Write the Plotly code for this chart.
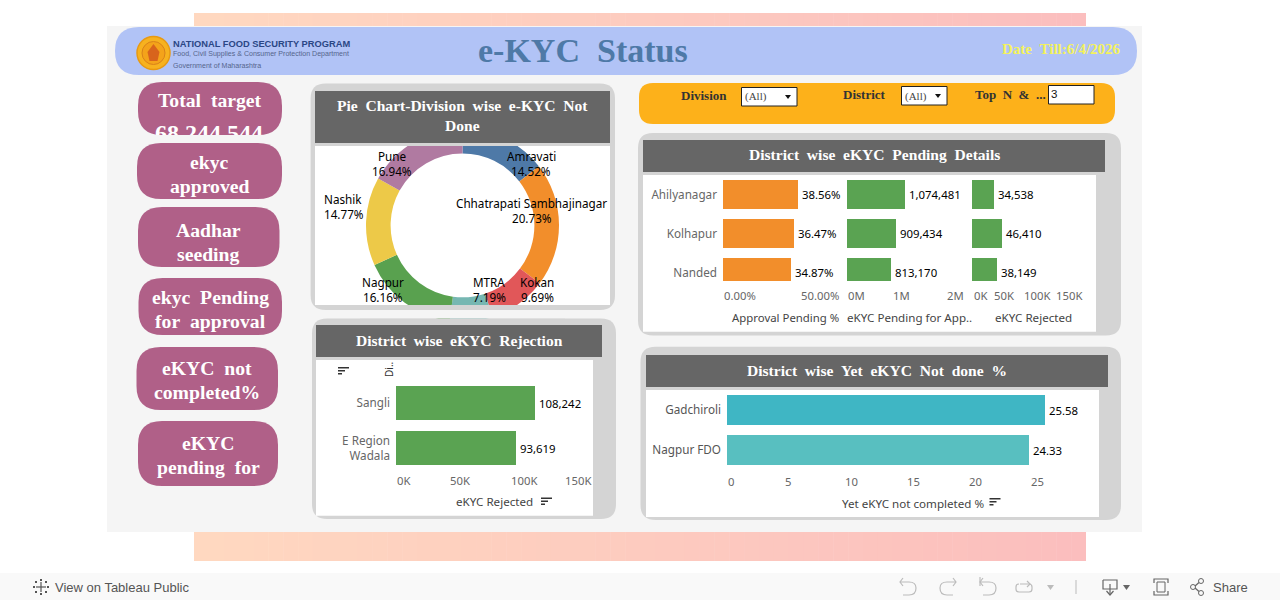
import plotly.graph_objects as go

# ---- data ----
divisions = ["Amravati", "Chhatrapati Sambhajinagar", "Kokan", "MTRA", "Nagpur", "Nashik", "Pune"]
division_pct = [14.52, 20.73, 9.69, 7.19, 16.16, 14.77, 16.94]
division_colors = ["#4e79a7", "#f28e2b", "#e15759", "#76b7b2", "#59a14f", "#edc948", "#b07aa1"]

pending_districts = ["Ahilyanagar", "Kolhapur", "Nanded"]
approval_pending_pct = [38.56, 36.47, 34.87]
ekyc_pending = [1074481, 909434, 813170]
ekyc_rejected = [34538, 46410, 38149]

rejection_districts = ["Sangli", "E Region<br>Wadala"]
rejection_values = [108242, 93619]

notdone_districts = ["Gadchiroli", "Nagpur FDO"]
notdone_pct = [25.58, 24.33]
notdone_colors = ["#3fb6c4", "#58bfc0"]

kpi_titles = [["Total\u00a0\u00a0target"], ["ekyc", "approved"], ["Aadhar", "seeding"],
              ["ekyc\u00a0\u00a0Pending", "for\u00a0\u00a0approval"], ["eKYC\u00a0\u00a0not", "completed%"],
              ["eKYC", "pending\u00a0\u00a0for"]]
total_target = "68,244,544"

SERIF = "Liberation Serif"
SANS = "Noto Sans"
W, H = 1280, 600
GREEN = "#5aa352"
ORANGE = "#f28e2b"


def px(x):
    return x / W


def py(y):
    return 1 - y / H


shapes = []
annotations = []


def rect(x0, y0, x1, y1, color, layer="below", line=None, lw=0):
    shapes.append(dict(type="rect", xref="paper", yref="paper", x0=px(x0), x1=px(x1), y0=py(y0), y1=py(y1),
                       fillcolor=color, layer=layer,
                       line=dict(width=lw, color=line or color)))


def pt(x, y):
    return f"{px(x):.6f},{py(y):.6f}"


def rrect(x0, y0, x1, y1, r, color, layer="below"):
    p = pt
    d = (f"M{p(x0 + r, y0)} L{p(x1 - r, y0)} Q{p(x1, y0)} {p(x1, y0 + r)} L{p(x1, y1 - r)} "
         f"Q{p(x1, y1)} {p(x1 - r, y1)} L{p(x0 + r, y1)} Q{p(x0, y1)} {p(x0, y1 - r)} "
         f"L{p(x0, y0 + r)} Q{p(x0, y0)} {p(x0 + r, y0)} Z")
    shapes.append(dict(type="path", xref="paper", yref="paper", path=d, fillcolor=color,
                       line=dict(width=0), layer=layer))


def poly(points, color=None, line=None, lw=1.2, close=True):
    d = "M" + " L".join(pt(x, y) for x, y in points) + (" Z" if close else "")
    shapes.append(dict(type="path", xref="paper", yref="paper", path=d,
                       fillcolor=color if color else "rgba(0,0,0,0)",
                       line=dict(width=lw if line else 0, color=line or "rgba(0,0,0,0)"), layer="below"))


def stroke(d, line, lw=1.2):
    shapes.append(dict(type="path", xref="paper", yref="paper", path=d, fillcolor="rgba(0,0,0,0)",
                       line=dict(width=lw, color=line), layer="below"))


def circle(cx, cy, r, color, line=None, lw=1):
    shapes.append(dict(type="circle", xref="paper", yref="paper", x0=px(cx - r), x1=px(cx + r),
                       y0=py(cy + r), y1=py(cy - r), fillcolor=color,
                       line=dict(width=lw if line else 0, color=line or "rgba(0,0,0,0)"), layer="below"))


def label(x, y, text, size=11, color="#000", family=SANS, anchor="center", bold=False, angle=0, xref=None,
          xshift=0):
    # annotations carry a little padding, which left-aligned text has to give back
    if anchor == "left":
        xshift -= 2
    # large serif text sits a touch low in its box
    if family == SERIF and size >= 15:
        y -= 1
    annotations.append(dict(x=x if xref else px(x), y=py(y), xref=xref or "paper", yref="paper", text=text,
                            showarrow=False, xanchor=anchor, yanchor="middle", align=anchor,
                            textangle=angle, xshift=xshift,
                            font=dict(family=family, size=size, color=color,
                                      weight="bold" if bold else "normal")))


def sort_icon(x, y):
    for i, w in enumerate([11, 7, 4]):
        rect(x, y - 4 + i * 3, x + w, y - 2.5 + i * 3, "#333333")


# page and outer panels
rect(0, 0, W, H, "#ffffff")
steps = 60
c0, c1 = (255, 216, 192), (251, 190, 190)
for i in range(steps):
    t = i / (steps - 1)
    col = "rgb(%d,%d,%d)" % tuple(round(a + (b - a) * t) for a, b in zip(c0, c1))
    xa = 194 + (1086 - 194) * i / steps
    xb = min(1086, 194 + (1086 - 194) * (i + 1) / steps + 0.5)
    rect(xa, 13, xb, 27, col)
    rect(xa, 531, xb, 561, col)
rect(107, 26, 1142, 532, "#f5f5f5")
rect(0, 573, W, 600, "#f9f9f9")

# banner with the seal and department text
rrect(115, 27, 1137, 75, 24, "#b1c3f6")
circle(153.5, 53, 16.5, "#f7b21f", line="#e89a12", lw=1.5)
circle(153.5, 53, 11.5, "#f4a31a", line="#d9821a", lw=1)
poly([(153.5, 44), (159.5, 52), (157.5, 61), (149.5, 61), (147.5, 52)], color="#d8641c")
label(173, 43.5, "NATIONAL FOOD SECURITY PROGRAM", size=9.3, color="#2b4785", family="Liberation Sans",
      anchor="left", bold=True)
label(173, 54.5, "Food, Civil Supplies &amp; Consumer Protection Department", size=7.05, color="#55658c",
      family="Liberation Sans", anchor="left")
label(173, 65, "Government of Maharashtra", size=7.05, color="#55658c", family="Liberation Sans", anchor="left")
label(583, 52, "e-KYC\u00a0\u00a0Status", size=34, color="#4e79a7", family=SERIF, bold=True)
label(1061, 50, "Date\u00a0\u00a0Till:6/4/2026", size=15, color="#f4f25c", family=SERIF, bold=True)

# KPI pills
pills = [(138, 82, 282, 135), (137, 143, 282, 199), (138, 207, 279.5, 267),
         (138.5, 278, 282, 335), (136.5, 347, 278, 410), (138, 421, 278, 486)]
text_y = [[101], [163, 187], [231, 255], [298, 322], [369, 393], [444, 468]]
for (x0, y0, x1, y1), lines, ys in zip(pills, kpi_titles, text_y):
    rrect(x0, y0, x1, y1, 24, "#b06088")
    for line_text, ty in zip(lines, ys):
        label((x0 + x1) / 2, ty, line_text, size=19.7, color="#ffffff", family=SERIF, bold=True)

# gray card backgrounds
rrect(310.6, 83.5, 615, 310, 15, "#d4d4d4")
rrect(312, 318.5, 616, 519, 15, "#d4d4d4")
rrect(638, 133, 1121, 335.5, 15, "#d4d4d4")
rrect(640.5, 346.7, 1121, 520, 15, "#d4d4d4")

# white chart areas
rect(315, 146, 610, 305, "#ffffff")
rect(316, 360, 593, 515.7, "#ffffff")
rect(643, 175, 1096, 331.7, "#ffffff")
rect(646, 390, 1099, 517, "#ffffff")

# the ring is cut off by its card, so these sit over the pie trace
rect(360, 100, 565, 146, "#d4d4d4", layer="above")
rect(315, 91, 610, 143, "#666666", layer="above")
rect(360, 305, 565, 310, "#d4d4d4", layer="above")
rect(360, 310, 565, 318.5, "#f5f5f5", layer="above")
rect(360, 318.5, 565, 324, "#d4d4d4", layer="above")

# card headers
rect(316, 325, 602, 357, "#666666", layer="above")
rect(643, 140, 1105, 172, "#666666")
rect(646, 355, 1108, 387, "#666666")
H_SIZE = 15.55
label(462.5, 107, "Pie\u00a0\u00a0Chart-Division\u00a0\u00a0wise\u00a0\u00a0e-KYC\u00a0\u00a0Not", H_SIZE, "#fff", SERIF, bold=True)
label(462.5, 127, "Done", H_SIZE, "#fff", SERIF, bold=True)
label(459, 341, "District\u00a0\u00a0wise\u00a0\u00a0eKYC\u00a0\u00a0Rejection", H_SIZE, "#fff", SERIF, bold=True)
label(874, 155.5, "District\u00a0\u00a0wise\u00a0\u00a0eKYC\u00a0\u00a0Pending\u00a0\u00a0Details", H_SIZE, "#fff", SERIF, bold=True)
label(876.5, 371, "District\u00a0\u00a0wise\u00a0\u00a0Yet\u00a0\u00a0eKYC\u00a0\u00a0Not\u00a0\u00a0done\u00a0\u00a0%", H_SIZE, "#fff", SERIF, bold=True)

# filter strip
rrect(639, 83, 1115, 124, 14, "#fdb11a")
label(704, 95.7, "Division", 13, "#333", SERIF, bold=True)
rect(741.5, 87.5, 797, 106, "#ffffff", line="#222222", lw=1)
label(745, 97, "(All)", 11, "#444", SERIF, anchor="left")
poly([(785, 95), (791, 95), (788, 99)], color="#111111")
label(864, 94.7, "District", 13, "#333", SERIF, bold=True)
rect(901.5, 86.5, 947, 105, "#ffffff", line="#222222", lw=1)
label(905, 96.5, "(All)", 11, "#444", SERIF, anchor="left")
poly([(935, 94), (941, 94), (938, 98)], color="#111111")
label(1010, 94, "Top\u00a0\u00a0N\u00a0\u00a0&amp;\u00a0\u00a0...", 13, "#333", SERIF, bold=True)
rect(1048.5, 85.5, 1094, 104, "#ffffff", line="#222222", lw=1)
label(1051, 94.5, "3", 11.5, "#111", "Liberation Sans", anchor="left")

# pie labels
pie_label_pos = {"Amravati": (531, 155.5, 170.5, "center"), "Chhatrapati Sambhajinagar": (531.5, 202.5, 217.5, "center"),
                 "Kokan": (537, 281.5, 296.5, "center"), "MTRA": (489, 281.5, 296.5, "center"),
                 "Nagpur": (383, 281.5, 296.5, "center"), "Nashik": (324, 198.5, 213.5, "left"),
                 "Pune": (392, 155.5, 170.5, "center")}
for name, val in zip(divisions, division_pct):
    x, y0, y1, anc = pie_label_pos[name]
    label(x, y0, name, 11.7, "#000", anchor=anc)
    label(x, y1, f"{val:.2f}%", 11.7, "#000", anchor=anc)


def axis_ticks(xref, labels, values, y, shifts=None):
    for i, (t, v) in enumerate(zip(labels, values)):
        shift = shifts.get(i, 0) if shifts else 0
        label(v, y, t, 11.3, "#666666", xref=xref, xshift=shift)


# numeric tick labels, with the first/last nudged to stay inside their panes
axis_ticks("x", ["0.00%", "50.00%"], [0, 50], 295.7, {0: 17})
axis_ticks("x2", ["0M", "1M", "2M"], [0, 1e6, 2e6], 295.7, {0: 9})
axis_ticks("x3", ["0K", "50K", "100K", "150K"], [0, 5e4, 1e5, 1.5e5], 295.7, {0: 8})
axis_ticks("x4", ["0K", "50K", "100K", "150K"], [0, 5e4, 1e5, 1.5e5], 480, {0: 7, 3: -10.5})
axis_ticks("x5", ["0", "5", "10", "15", "20", "25"], [0, 5, 10, 15, 20, 25], 481, {0: 4, 1: -1})

label(785, 317.7, "Approval Pending %", 11.4, "#444")
label(909, 317.7, "eKYC Pending for App..", 11.6, "#444")
label(1033, 317.7, "eKYC Rejected", 11.6, "#444")
label(494, 501.7, "eKYC Rejected", 11.6, "#444")
sort_icon(541, 501.5)
label(912.7, 503, "Yet eKYC not completed %", 11.6, "#444")
sort_icon(989.5, 502)
sort_icon(338, 371)
label(389, 370, "Di..", 10, "#333", angle=-90)

# footer toolbar
for dx, dy in [(0, -7), (0, 7), (-7, 0), (7, 0), (-5, -5), (5, -5), (-5, 5), (5, 5)]:
    rect(41 + dx - 1, 587 + dy - 1, 41 + dx + 1, 587 + dy + 1, "#555555")
rect(36, 586.4, 46, 587.6, "#555555")
rect(40.4, 582, 41.6, 592, "#555555")
label(55, 587, "View on Tableau Public", 13, "#555555", "Liberation Sans", anchor="left")
ICON = "#bcbcbc"
DARK = "#666666"


def undo_path(sx, x0):
    # hooked arrow, drawn pointing left (sx=1) or right (sx=-1) from x0
    f = lambda dx, y: pt(x0 + sx * dx, y)
    return (f"M{f(3, 578)} L{f(0, 582)} L{f(3, 586)} M{f(0, 582)} L{f(9, 582)} "
            f"Q{f(16, 582)} {f(16, 588)} Q{f(16, 595)} {f(9, 595)} L{f(3, 595)}")


stroke(undo_path(1, 900), ICON)
stroke(undo_path(-1, 956), ICON)
stroke(undo_path(1, 980), ICON)
stroke(f"M{pt(980, 577)} L{pt(980, 586)}", ICON)
stroke(f"M{pt(1020, 584)} L{pt(1029, 584)} Q{pt(1032, 584)} {pt(1032, 587)} L{pt(1032, 589)} "
       f"Q{pt(1032, 592)} {pt(1029, 592)} L{pt(1019, 592)} Q{pt(1016, 592)} {pt(1016, 589)} "
       f"L{pt(1016, 587)} Q{pt(1016, 584)} {pt(1019, 584)}", ICON)
stroke(f"M{pt(1027, 581)} L{pt(1030, 584)} L{pt(1027, 587)}", ICON)
poly([(1047, 585), (1054, 585), (1050.5, 590)], color=ICON)
rect(1075.5, 580, 1076.5, 594, ICON)
poly([(1103, 580), (1117, 580), (1117, 589), (1103, 589), (1103, 580)], line=DARK, close=False)
poly([(1110, 584), (1110, 595)], line=DARK, close=False)
poly([(1106.5, 591), (1110, 595), (1113.5, 591)], line=DARK, close=False)
poly([(1123, 585), (1130, 585), (1126.5, 590)], color=DARK)
poly([(1154, 583), (1154, 579), (1168, 579), (1168, 583)], line=DARK, close=False)
poly([(1154, 591), (1154, 595), (1168, 595), (1168, 591)], line=DARK, close=False)
rect(1157, 582, 1165, 592, "rgba(0,0,0,0)", line=DARK, lw=1)
circle(1193, 587, 2.5, "#f9f9f9", line=DARK, lw=1)
circle(1201, 581, 2.5, "#f9f9f9", line=DARK, lw=1)
circle(1201, 593, 2.5, "#f9f9f9", line=DARK, lw=1)
poly([(1195, 586), (1199, 582.5)], line=DARK, close=False)
poly([(1195, 588), (1199, 591.5)], line=DARK, close=False)
label(1213, 587, "Share", 13, "#555555", "Liberation Sans", anchor="left")


# ---- traces ----
def hbar(cats, vals, ax, color, width, fmt):
    sfx = "" if ax == 1 else str(ax)
    # value labels hang off the bar ends through the same axes
    for c, v in zip(cats, vals):
        annotations.append(dict(x=v, y=c, xref="x" + sfx, yref="y" + sfx, text=fmt(v), showarrow=False,
                                xanchor="left", yanchor="middle", xshift=2, yshift=-0.5,
                                font=dict(family=SANS, size=11.4, color="#000")))
    return [go.Bar(y=cats, x=vals, orientation="h", marker=dict(color=color, line=dict(width=0)),
                   width=width, xaxis="x" + sfx, yaxis="y" + sfx, hoverinfo="skip")]


traces = [go.Pie(labels=divisions, values=division_pct, sort=False, direction="clockwise", rotation=0,
                 hole=0.745, marker=dict(colors=division_colors, line=dict(width=0)), textinfo="none",
                 hoverinfo="skip", showlegend=False,
                 domain=dict(x=[px(366), px(559)], y=[py(321.9), py(128.9)]))]
traces += hbar(pending_districts, approval_pending_pct, 1, ORANGE, 0.744, lambda v: f"{v:.2f}%")
traces += hbar(pending_districts, ekyc_pending, 2, GREEN, 0.744, lambda v: f"{v:,}")
traces += hbar(pending_districts, ekyc_rejected, 3, GREEN, 0.744, lambda v: f"{v:,}")
traces += hbar(rejection_districts, rejection_values, 4, GREEN, 0.756, lambda v: f"{v:,}")
traces += hbar(notdone_districts, notdone_pct, 5, notdone_colors, 0.75, lambda v: f"{v:.2f}")

# the big total runs past the bottom of its pill, so it lives in a clipped pane
traces.append(go.Scatter(x=[209], y=[135], mode="text", text=[total_target], textposition="middle center",
                         textfont=dict(family=SERIF, size=24, color="#ffffff", weight="bold"),
                         cliponaxis=True, xaxis="x6", yaxis="y6", hoverinfo="skip"))


def xax(x0, x1, vmax_px, px_per_unit):
    return dict(domain=[px(x0), px(x1)], range=[0, vmax_px / px_per_unit], showgrid=False, zeroline=False,
                showline=False, showticklabels=False, ticks="", fixedrange=True)


def yax(top, bottom, first_center, spacing, cats, xanchor, tick_color="#666666"):
    return dict(domain=[py(bottom), py(top)], type="category", categoryorder="array", categoryarray=cats,
                range=[(bottom - first_center) / spacing, (top - first_center) / spacing],
                showgrid=False, zeroline=False, showline=False, ticks="", anchor=xanchor, fixedrange=True,
                ticklabelstandoff=5, tickfont=dict(family=SANS, size=11.7, color=tick_color))


fig = go.Figure(traces)
y_noticks = dict(showticklabels=False)
fig.update_layout(
    width=W, height=H, autosize=False, margin=dict(l=0, r=0, t=0, b=0), showlegend=False,
    paper_bgcolor="#ffffff", plot_bgcolor="rgba(0,0,0,0)", bargap=0, barmode="overlay",
    shapes=shapes, annotations=annotations,
    xaxis=dict(xax(723, 843, 120, 1.945), anchor="y"),
    xaxis2=dict(xax(847, 968, 121, 54e-6), anchor="y2"),
    xaxis3=dict(xax(972, 1092, 120, 0.645e-3), anchor="y3"),
    xaxis4=dict(xax(396, 592, 196, 1.284e-3), anchor="y4"),
    xaxis5=dict(xax(727, 1095, 368, 12.43), anchor="y5"),
    xaxis6=dict(domain=[px(138), px(282)], range=[138, 282], visible=False, anchor="y6", fixedrange=True),
    yaxis=yax(175, 281, 194.4, 39, pending_districts, "x"),
    yaxis2=dict(yax(175, 281, 194.4, 39, pending_districts, "x2"), **y_noticks),
    yaxis3=dict(yax(175, 281, 194.4, 39, pending_districts, "x3"), **y_noticks),
    yaxis4=yax(362, 470, 403, 45, rejection_districts, "x4"),
    yaxis5=yax(391, 470, 410, 40, notdone_districts, "x5", "#555555"),
    yaxis6=dict(domain=[py(135), py(118)], range=[135, 118], visible=False, anchor="x6", fixedrange=True),
)
fig.write_html("out.html", config=dict(displayModeBar=False))
